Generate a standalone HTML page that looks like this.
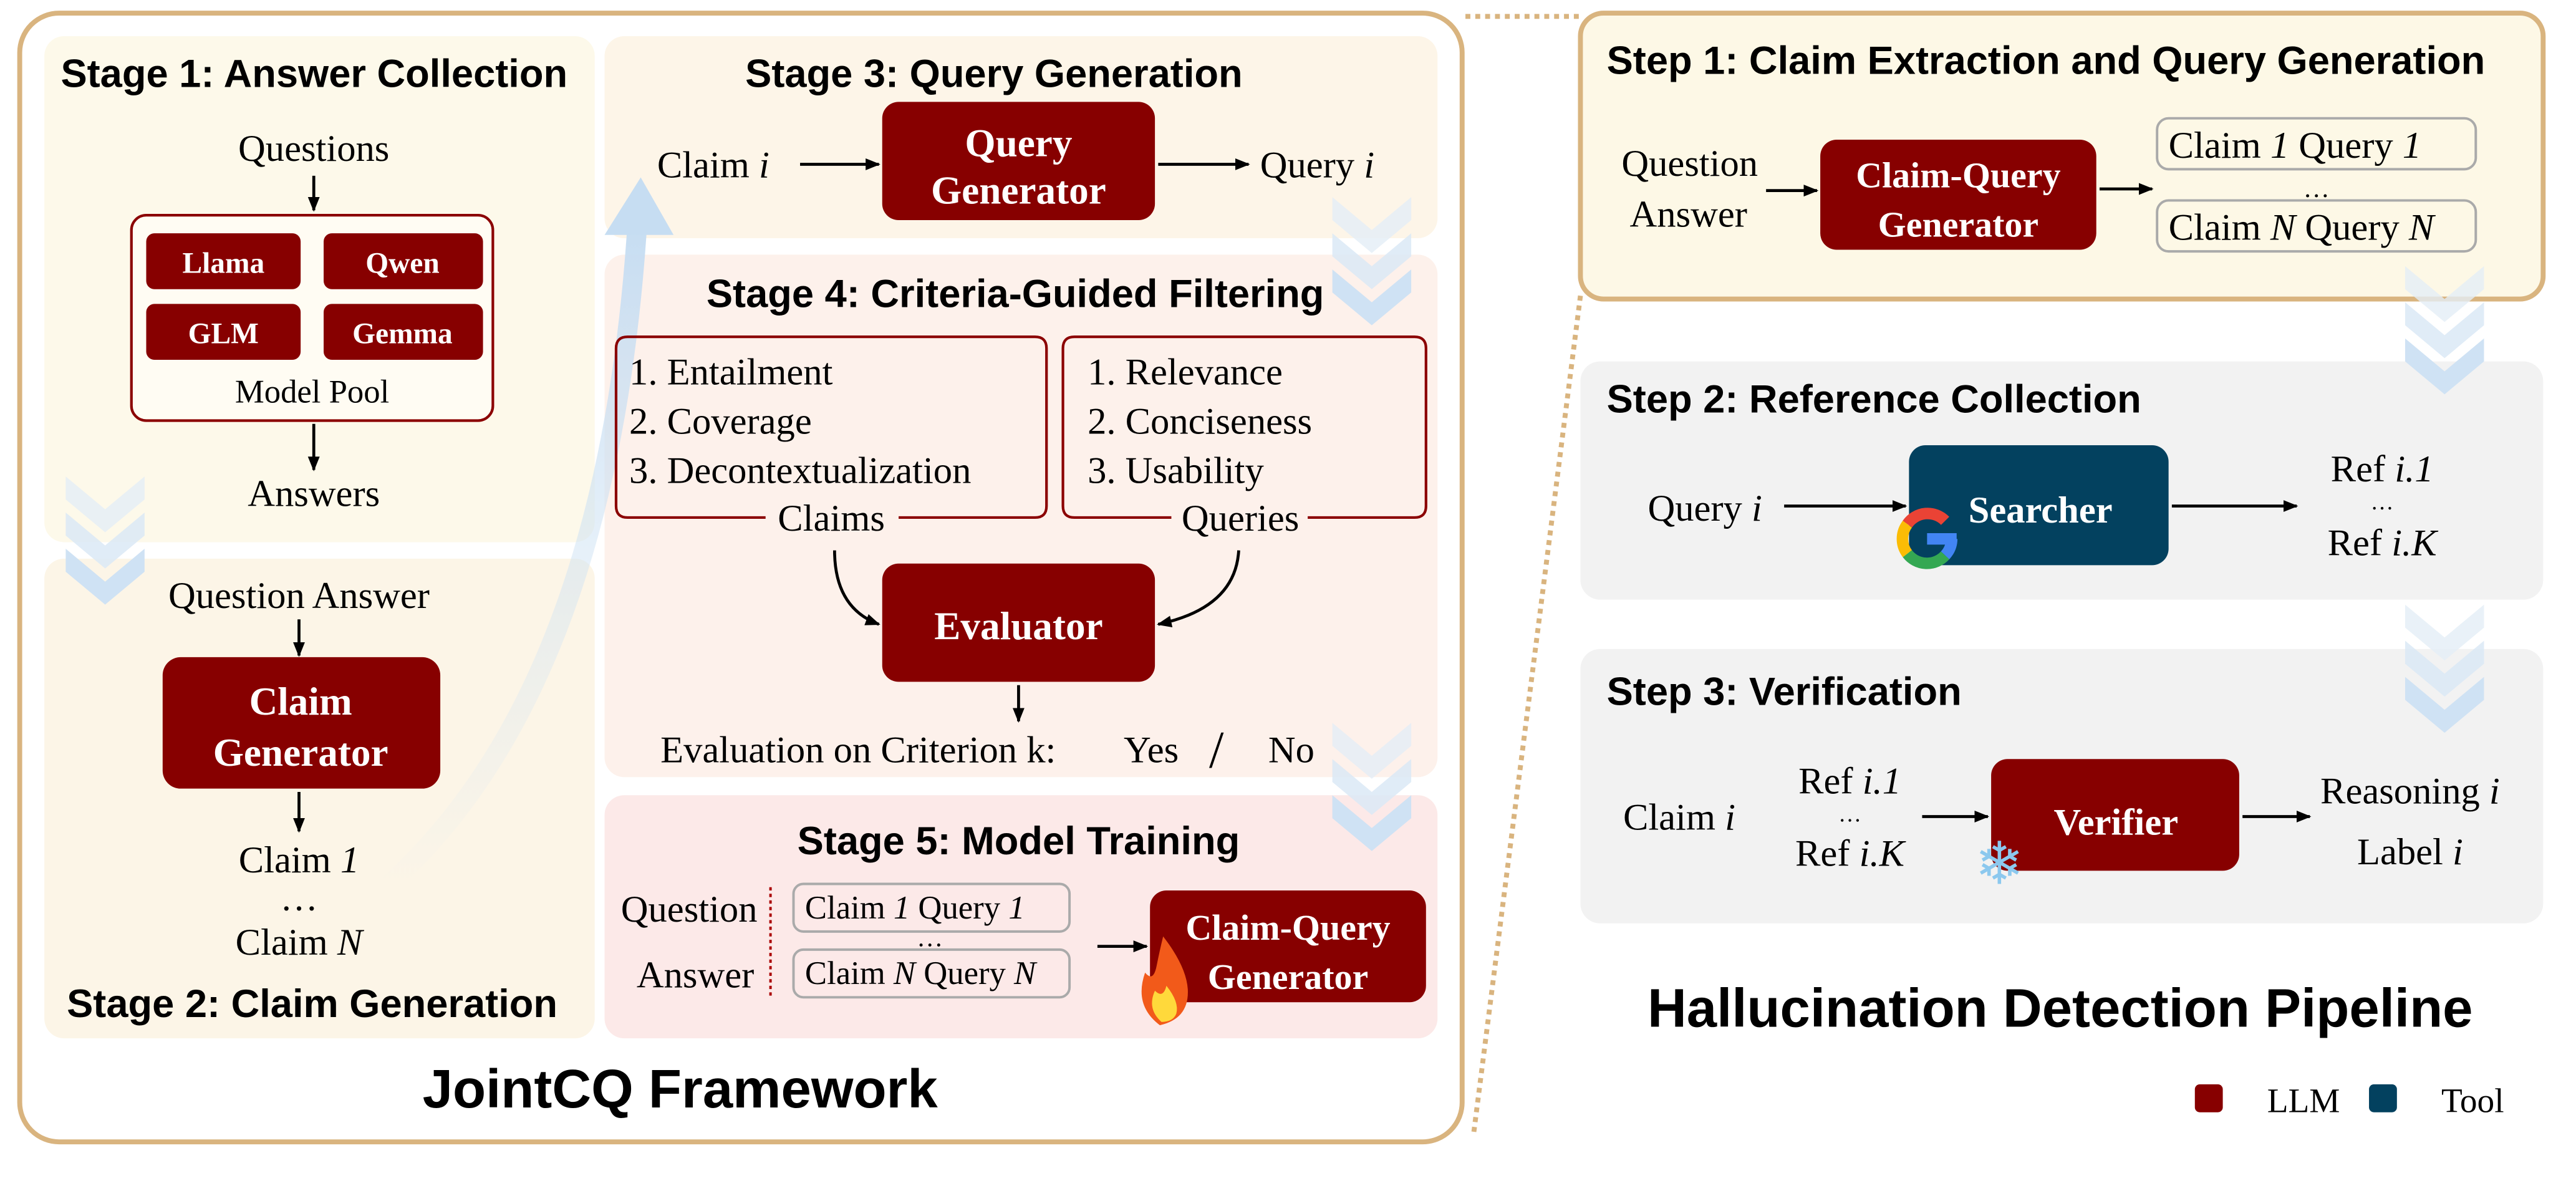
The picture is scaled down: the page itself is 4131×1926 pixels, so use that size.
<!DOCTYPE html>
<html><head><meta charset="utf-8"><style>html,body{margin:0;padding:0;background:#fff}svg{display:block}</style></head><body>
<svg xmlns="http://www.w3.org/2000/svg" width="4131" height="1926" viewBox="0 0 1568 731" preserveAspectRatio="none">
<defs>
<marker id="ah" viewBox="0 0 10 10" refX="9" refY="5" markerWidth="5" markerHeight="5" orient="auto"><path d="M0,1 L10,5 L0,9 Z" fill="#000"/></marker>
<linearGradient id="bg" x1="0" y1="1" x2="0" y2="0"><stop offset="0" stop-color="#d4e6f5" stop-opacity="0"/><stop offset="1" stop-color="#c6ddf2" stop-opacity="1"/></linearGradient>
<g id="chev">
<polygon points="0,0 24,20 48,0 48,14 24,34 0,14" fill="#e4eef6" opacity="0.8"/>
<polygon points="0,22 24,42 48,22 48,36 24,56 0,36" fill="#dbe9f6" opacity="0.85"/>
<polygon points="0,44 24,64 48,44 48,58 24,78 0,58" fill="#cfe2f4"/>
</g>
</defs>
<style>
.s{font-family:"Liberation Serif",serif;font-size:23px;fill:#000}
.h{font-family:"Liberation Sans",sans-serif;font-weight:bold;font-size:24px;fill:#000}
.w{font-family:"Liberation Serif",serif;font-weight:bold;fill:#fff}
.ar{stroke:#000;stroke-width:1.8;fill:none;marker-end:url(#ah)}
</style>
<line x1="892" y1="10" x2="962" y2="10" stroke="#d9b47f" stroke-width="3" stroke-dasharray="3,3"/>
<line x1="962" y1="180" x2="897" y2="690" stroke="#d9b47f" stroke-width="3" stroke-dasharray="3,3"/>
<rect x="12" y="8" width="878" height="687" rx="24" fill="#fff" stroke="#d9b47f" stroke-width="3"/>
<rect x="27" y="22" width="335" height="308" rx="12" fill="#fdf9ea"/>
<rect x="27" y="340" width="335" height="292" rx="12" fill="#fcf5e7"/>
<rect x="368" y="22" width="507" height="123" rx="12" fill="#fdf5e8"/>
<rect x="368" y="155" width="507" height="318" rx="12" fill="#fdf1eb"/>
<rect x="368" y="484" width="507" height="148" rx="12" fill="#fce9e8"/>
<use href="#chev" x="40" y="290"/>
<use href="#chev" x="811" y="120"/>
<use href="#chev" x="811" y="440"/>
<path d="M235,540 Q370,420 388,135" stroke="url(#bg)" stroke-width="12" fill="none"/>
<polygon points="368,143 390,108 410,143" fill="#c6ddf2"/>
<!-- Stage 1 -->
<text class="h" x="37" y="53">Stage 1: Answer Collection</text>
<text class="s" x="191" y="98" text-anchor="middle">Questions</text>
<line class="ar" x1="191" y1="107" x2="191" y2="128"/>
<rect x="80" y="131" width="220" height="125" rx="9" fill="#fffcf3" stroke="#8b0000" stroke-width="1.6"/>
<rect x="89" y="142" width="94" height="34" rx="5" fill="#870000"/>
<rect x="197" y="142" width="97" height="34" rx="5" fill="#870000"/>
<rect x="89" y="185" width="94" height="34" rx="5" fill="#870000"/>
<rect x="197" y="185" width="97" height="34" rx="5" fill="#870000"/>
<text class="w" x="136" y="166" text-anchor="middle" style="font-size:18px">Llama</text>
<text class="w" x="245" y="166" text-anchor="middle" style="font-size:18px">Qwen</text>
<text class="w" x="136" y="209" text-anchor="middle" style="font-size:18px">GLM</text>
<text class="w" x="245" y="209" text-anchor="middle" style="font-size:18px">Gemma</text>
<text class="s" x="190" y="245" text-anchor="middle" style="font-size:20px">Model Pool</text>
<line class="ar" x1="191" y1="258" x2="191" y2="286"/>
<text class="s" x="191" y="308" text-anchor="middle">Answers</text>
<!-- Stage 2 -->
<text class="s" x="182" y="370" text-anchor="middle">Question Answer</text>
<line class="ar" x1="182" y1="377" x2="182" y2="399"/>
<rect x="99" y="400" width="169" height="80" rx="11" fill="#870000"/>
<text class="w" x="183" y="435" text-anchor="middle" style="font-size:24px">Claim</text>
<text class="w" x="183" y="466" text-anchor="middle" style="font-size:24px">Generator</text>
<line class="ar" x1="182" y1="482" x2="182" y2="506"/>
<text class="s" x="182" y="531" text-anchor="middle">Claim <tspan font-style="italic">1</tspan></text>
<text class="s" x="182" y="554" text-anchor="middle">…</text>
<text class="s" x="182" y="581" text-anchor="middle">Claim <tspan font-style="italic">N</tspan></text>
<text class="h" x="190" y="619" text-anchor="middle">Stage 2: Claim Generation</text>
<!-- Stage 3 -->
<text class="h" x="605" y="53" text-anchor="middle">Stage 3: Query Generation</text>
<text class="s" x="400" y="108">Claim <tspan font-style="italic">i</tspan></text>
<line class="ar" x1="487" y1="100" x2="535" y2="100"/>
<rect x="537" y="62" width="166" height="72" rx="10" fill="#870000"/>
<text class="w" x="620" y="95" text-anchor="middle" style="font-size:24px">Query</text>
<text class="w" x="620" y="124" text-anchor="middle" style="font-size:24px">Generator</text>
<line class="ar" x1="705" y1="100" x2="760" y2="100"/>
<text class="s" x="767" y="108">Query <tspan font-style="italic">i</tspan></text>
<!-- Stage 4 -->
<text class="h" x="618" y="187" text-anchor="middle">Stage 4: Criteria-Guided Filtering</text>
<path d="M466,315 H382 Q375,315 375,308 V212 Q375,205 382,205 H630 Q637,205 637,212 V308 Q637,315 630,315 H547" fill="none" stroke="#8b0000" stroke-width="1.6"/>
<path d="M713,315 H654 Q647,315 647,308 V212 Q647,205 654,205 H861 Q868,205 868,212 V308 Q868,315 861,315 H796" fill="none" stroke="#8b0000" stroke-width="1.6"/>
<text class="s" x="383" y="234">1. Entailment</text>
<text class="s" x="383" y="264">2. Coverage</text>
<text class="s" x="383" y="294">3. Decontextualization</text>
<text class="s" x="506" y="323" text-anchor="middle">Claims</text>
<text class="s" x="662" y="234">1. Relevance</text>
<text class="s" x="662" y="264">2. Conciseness</text>
<text class="s" x="662" y="294">3. Usability</text>
<text class="s" x="755" y="323" text-anchor="middle">Queries</text>
<rect x="537" y="343" width="166" height="72" rx="10" fill="#870000"/>
<text class="w" x="620" y="389" text-anchor="middle" style="font-size:24px">Evaluator</text>
<path class="ar" d="M508,335 Q508,370 535,380"/>
<path class="ar" d="M754,335 Q752,370 705,380"/>
<line class="ar" x1="620" y1="417" x2="620" y2="439"/>
<text class="s" x="402" y="464">Evaluation on Criterion k:</text>
<text class="s" x="684" y="464">Yes</text>
<text class="s" x="736" y="467" style="font-size:32px">/</text>
<text class="s" x="772" y="464">No</text>
<!-- Stage 5 -->
<text class="h" x="620" y="520" text-anchor="middle">Stage 5: Model Training</text>
<text class="s" x="461" y="561" text-anchor="end">Question</text>
<text class="s" x="459" y="601" text-anchor="end">Answer</text>
<line x1="469" y1="540" x2="469" y2="607" stroke="#a00" stroke-width="1.5" stroke-dasharray="2,2"/>
<rect x="483" y="538" width="168" height="29" rx="6" fill="none" stroke="#aaa" stroke-width="1.5"/>
<rect x="483" y="578" width="168" height="29" rx="6" fill="none" stroke="#aaa" stroke-width="1.5"/>
<text class="s" x="490" y="559" style="font-size:20px">Claim <tspan font-style="italic">1</tspan>  Query <tspan font-style="italic">1</tspan></text>
<text class="s" x="566" y="576" text-anchor="middle" style="font-size:16px">…</text>
<text class="s" x="490" y="599" style="font-size:20px">Claim <tspan font-style="italic">N</tspan> Query <tspan font-style="italic">N</tspan></text>
<line class="ar" x1="668" y1="576" x2="698" y2="576"/>
<rect x="700" y="542" width="168" height="68" rx="10" fill="#870000"/>
<text class="w" x="784" y="572" text-anchor="middle" style="font-size:22px">Claim-Query</text>
<text class="w" x="784" y="602" text-anchor="middle" style="font-size:22px">Generator</text>
<path d="M706,624 Q690,612 697,592 Q702,598 704,588 Q706,578 708,570 Q722,588 723,602 Q724,620 706,624 Z" fill="#f25a1a"/>
<path d="M707,622 Q698,614 703,603 Q708,608 710,600 Q718,610 716,617 Q714,622 707,622 Z" fill="#ffd93b"/>
<text class="h" x="414" y="674" text-anchor="middle" style="font-size:33px">JointCQ Framework</text>
<!-- Right side -->
<rect x="962" y="8" width="586" height="174" rx="14" fill="#fdf8e6" stroke="#d9b47f" stroke-width="3"/>
<rect x="962" y="220" width="586" height="145" rx="12" fill="#f2f2f2"/>
<rect x="962" y="395" width="586" height="167" rx="12" fill="#f2f2f2"/>
<use href="#chev" x="1464" y="162"/>
<use href="#chev" x="1464" y="368"/>
<text class="h" x="978" y="45">Step 1: Claim Extraction and Query Generation</text>
<text class="s" x="987" y="107">Question</text>
<text class="s" x="992" y="138">Answer</text>
<line class="ar" x1="1075" y1="116" x2="1106" y2="116"/>
<rect x="1108" y="85" width="168" height="67" rx="10" fill="#870000"/>
<text class="w" x="1192" y="114" text-anchor="middle" style="font-size:22px">Claim-Query</text>
<text class="w" x="1192" y="144" text-anchor="middle" style="font-size:22px">Generator</text>
<line class="ar" x1="1278" y1="115" x2="1310" y2="115"/>
<rect x="1313" y="72" width="194" height="31" rx="7" fill="none" stroke="#aaa" stroke-width="1.5"/>
<rect x="1313" y="122" width="194" height="31" rx="7" fill="none" stroke="#aaa" stroke-width="1.5"/>
<text class="s" x="1320" y="96">Claim <tspan font-style="italic">1</tspan>   Query <tspan font-style="italic">1</tspan></text>
<text class="s" x="1410" y="120" text-anchor="middle" style="font-size:16px">…</text>
<text class="s" x="1320" y="146">Claim <tspan font-style="italic">N</tspan>  Query <tspan font-style="italic">N</tspan></text>
<text class="h" x="978" y="251">Step 2: Reference Collection</text>
<text class="s" x="1003" y="317">Query <tspan font-style="italic">i</tspan></text>
<line class="ar" x1="1086" y1="308" x2="1160" y2="308"/>
<rect x="1162" y="271" width="158" height="73" rx="10" fill="#03415f"/>
<text class="w" x="1242" y="318" text-anchor="middle" style="font-size:23px">Searcher</text>
<g transform="translate(1173,328)" fill="none" stroke-width="7">
<path d="M-12,-9 A15,15 0 0 1 11,-11" stroke="#ea4335"/>
<path d="M-12,9 A15,15 0 0 1 -12,-9" stroke="#fbbc05"/>
<path d="M11,10 A15,15 0 0 1 -12,9" stroke="#34a853"/>
<path d="M15,0 A15,15 0 0 1 11,10" stroke="#4285f4"/>
<line x1="0" y1="0" x2="18" y2="0" stroke="#4285f4"/>
</g>
<line class="ar" x1="1322" y1="308" x2="1398" y2="308"/>
<text class="s" x="1450" y="293" text-anchor="middle">Ref <tspan font-style="italic">i.1</tspan></text>
<text class="s" x="1450" y="310" text-anchor="middle" style="font-size:14px">…</text>
<text class="s" x="1450" y="338" text-anchor="middle">Ref <tspan font-style="italic">i.K</tspan></text>
<text class="h" x="978" y="429">Step 3: Verification</text>
<text class="s" x="988" y="505">Claim <tspan font-style="italic">i</tspan></text>
<text class="s" x="1126" y="483" text-anchor="middle">Ref <tspan font-style="italic">i.1</tspan></text>
<text class="s" x="1126" y="500" text-anchor="middle" style="font-size:14px">…</text>
<text class="s" x="1126" y="527" text-anchor="middle">Ref <tspan font-style="italic">i.K</tspan></text>
<line class="ar" x1="1170" y1="497" x2="1210" y2="497"/>
<rect x="1212" y="462" width="151" height="68" rx="10" fill="#870000"/>
<text class="w" x="1288" y="508" text-anchor="middle" style="font-size:23px">Verifier</text>
<text x="1217" y="538" text-anchor="middle" font-family="DejaVu Sans,sans-serif" style="font-size:36px" fill="#8cc8ee">❄</text>
<line class="ar" x1="1365" y1="497" x2="1406" y2="497"/>
<text class="s" x="1467" y="489" text-anchor="middle">Reasoning <tspan font-style="italic">i</tspan></text>
<text class="s" x="1467" y="526" text-anchor="middle">Label <tspan font-style="italic">i</tspan></text>
<text class="h" x="1254" y="625" text-anchor="middle" style="font-size:33px">Hallucination Detection Pipeline</text>
<rect x="1336" y="660" width="17" height="17" rx="3" fill="#870000"/>
<text class="s" x="1380" y="677" style="font-size:21px">LLM</text>
<rect x="1442" y="660" width="17" height="17" rx="3" fill="#03415f"/>
<text class="s" x="1486" y="677" style="font-size:21px">Tool</text>
</svg>
</body></html>
